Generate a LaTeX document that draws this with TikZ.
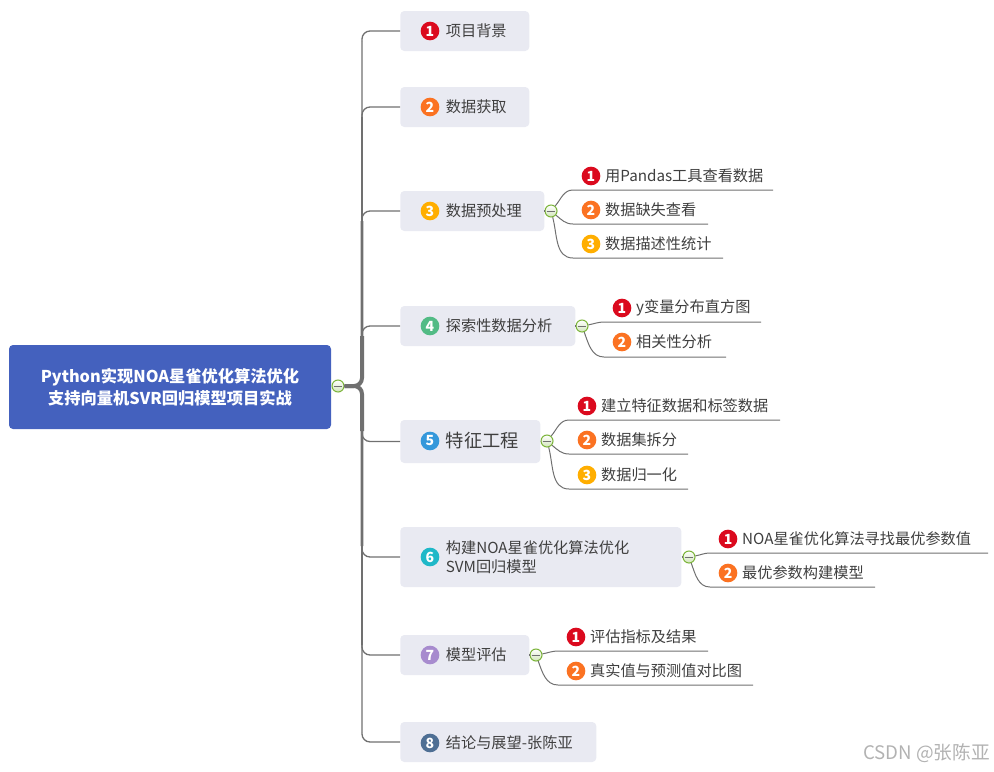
\documentclass[tikz,border=0pt]{standalone}
\usepackage{fontspec}
\setmainfont{Noto Sans CJK SC}
\usetikzlibrary{positioning}
\definecolor{rootblue}{HTML}{4461BE}
\definecolor{boxgray}{HTML}{E9EAF2}
\definecolor{linegray}{HTML}{707070}
\definecolor{inkgray}{HTML}{3F3F3F}
\definecolor{foldgreen}{HTML}{7DB53C}
\definecolor{markred}{HTML}{DB0A1E}
\definecolor{markorange}{HTML}{FB7222}
\definecolor{markamber}{HTML}{FFAE00}
\definecolor{markgreen}{HTML}{52BB85}
\definecolor{markblue}{HTML}{3498DB}
\definecolor{markteal}{HTML}{1FB8C8}
\definecolor{markpurple}{HTML}{A78BCE}
\definecolor{markslate}{HTML}{4E6F94}

\begin{document}
\begin{tikzpicture}[
    x=.75pt, y=-.75pt,
    root/.style={fill=rootblue, rounded corners=3pt, minimum width=241.5pt, minimum height=63pt, inner sep=0pt, text=white, align=center, font=\bfseries\fontsize{12.2}{16.5}\selectfont},
    topic/.style={anchor=west, fill=boxgray, rounded corners=3pt, minimum height=30pt, inner sep=0pt},
    badge/.style={circle, fill=#1, text=white, inner sep=0pt, minimum size=14pt, font=\bfseries\fontsize{10.5}{10.5}\selectfont},
    itemtext/.style={text=inkgray, inner sep=0pt, right=4.5pt of #1, align=left, font=\fontsize{11.4}{14.25}\selectfont},
    subtext/.style={text=inkgray, inner sep=0pt, right=3.2pt of #1, yshift=.4pt, font=\fontsize{11.4}{14.25}\selectfont},
    fold/.style={circle, draw=foldgreen, line width=.8pt, top color=white, bottom color=foldgreen!35, minimum size=9pt, inner sep=0pt,
        path picture={\draw[linegray, line width=.7pt] ([xshift=1.2pt]path picture bounding box.west) -- ([xshift=-1.2pt]path picture bounding box.east);}},
    spine/.style={draw=linegray, rounded corners=6pt},
    twig/.style={draw=linegray, line width=1pt, rounded corners=6pt},
    subline/.style={draw=linegray, line width=.75pt}
]
   \useasboundingbox (0,0) rectangle (994,771);

   % Root and fold buttons
   \node[root] (root) at (170,387) {Python实现NOA星雀优化算法优化\\支持向量机SVR回归模型项目实战};
   \node[fold] (f0) at (338,386) {};
   \node[fold] (f3) at (551,211) {};
   \node[fold] (f4) at (582,326) {};
   \node[fold] (f5) at (547,441) {};
   \node[fold] (f6) at (689,557) {};
   \node[fold] (f7) at (536,655) {};

   % Topics
   \node[topic, minimum width=96.75pt] (b1) at (400,31) {};
   \node[topic, minimum width=96.75pt] (b2) at (400,107) {};
   \node[topic, minimum width=108pt] (b3) at (400,211) {};
   \node[topic, minimum width=131.25pt] (b4) at (400,326) {};
   \node[topic, minimum width=105pt, minimum height=32.25pt] (b5) at (400,441.5) {};
   \node[topic, minimum width=210.75pt, minimum height=45pt] (b6) at (400,557) {};
   \node[topic, minimum width=96.75pt] (b7) at (400,655) {};
   \node[topic, minimum width=147pt] (b8) at (400,742) {};

   \node[badge=markred] (n1) at (430,31) {1};
   \node[itemtext=n1] (t1) {项目背景};
   \node[badge=markorange] (n2) at (430,107) {2};
   \node[itemtext=n2] (t2) {数据获取};
   \node[badge=markamber] (n3) at (430,211) {3};
   \node[itemtext=n3] (t3) {数据预处理};
   \node[badge=markgreen] (n4) at (430,326) {4};
   \node[itemtext=n4] (t4) {探索性数据分析};
   \node[badge=markblue] (n5) at (430,441) {5};
   \node[itemtext=n5, font=\fontsize{13.7}{16}\selectfont] (t5) {特征工程};
   \node[badge=markteal] (n6) at (430,557) {6};
   \node[itemtext=n6] (t6) {构建NOA星雀优化算法优化\\SVM回归模型};
   \node[badge=markpurple] (n7) at (430,655) {7};
   \node[itemtext=n7] (t7) {模型评估};
   \node[badge=markslate] (n8) at (430,743) {8};
   \node[itemtext=n8] (t8) {结论与展望-张陈亚};

   % Trunk
   \coordinate (j1) at (362,41);
   \coordinate (j2) at (362,117);
   \coordinate (j3) at (362,221);
   \coordinate (j4) at (362,336);
   \coordinate (j5) at (362,431);
   \coordinate (j6) at (362,546);
   \coordinate (j7) at (362,645);
   \coordinate (j8) at (362,732);
   \draw[spine, line width=1pt] (f0) -| (j1);
   \draw[spine, line width=1pt] (f0) -| (j8);
   \draw[spine, line width=1.4pt] (f0) -| (j2);
   \draw[spine, line width=1.4pt] (f0) -| (j7);
   \draw[spine, line width=1.9pt] (f0) -| (j3);
   \draw[spine, line width=1.9pt] (f0) -| (j6);
   \draw[spine, line width=3pt] (f0) -| (j4);
   \draw[spine, line width=3pt] (f0) -| (j5);

   % Branches to the topics
   \draw[twig] (j1) |- (b1.west);
   \draw[twig] (j2) |- (b2.west);
   \draw[twig] (j3) |- (b3.west);
   \draw[twig] (j4) |- (b4.west);
   \draw[twig] (j5) |- (b5.west);
   \draw[twig] (j6) |- (b6.west);
   \draw[twig] (j7) |- (b7.west);
   \draw[twig] (j8) |- (b8.west);
   \draw[twig] (b3.east) -- (f3);
   \draw[twig] (b4.east) -- (f4);
   \draw[twig] (b5.east) -- (f5);
   \draw[twig] (b6.east) -- (f6);
   \draw[twig] (b7.east) -- (f7);

   % Items of topic 3
   \node[badge=markred] (n31) at (591,176) {1};
   \node[subtext=n31] (t31) {用Pandas工具查看数据};
   \node[badge=markorange] (n32) at (591,210) {2};
   \node[subtext=n32] (t32) {数据缺失查看};
   \node[badge=markamber] (n33) at (591,244) {3};
   \node[subtext=n33] (t33) {数据描述性统计};
   \coordinate (u31) at (573,190);
   \coordinate (e31) at (773,190);
   \coordinate (u32) at (573,224);
   \coordinate (e32) at (708,224);
   \coordinate (u33) at (573,258);
   \coordinate (e33) at (723,258);
   \draw[subline] (f3) to[out=50, in=180] (u31) -- (e31);
   \draw[subline] (f3) to[out=-40, in=180] (u32) -- (e32);
   \draw[subline] (f3) to[out=-75, in=180] (u33) -- (e33);

   % Items of topic 4
   \node[badge=markred] (n41) at (622,308) {1};
   \node[subtext=n41] (t41) {y变量分布直方图};
   \node[badge=markorange] (n42) at (622,342) {2};
   \node[subtext=n42] (t42) {相关性分析};
   \coordinate (u41) at (604,322);
   \coordinate (e41) at (761,322);
   \coordinate (u42) at (604,357);
   \coordinate (e42) at (726,357);
   \draw[subline] (f4) to[out=10, in=180] (u41) -- (e41);
   \draw[subline] (f4) to[out=-70, in=180] (u42) -- (e42);

   % Items of topic 5
   \node[badge=markred] (n51) at (587,406) {1};
   \node[subtext=n51] (t51) {建立特征数据和标签数据};
   \node[badge=markorange] (n52) at (587,440) {2};
   \node[subtext=n52] (t52) {数据集拆分};
   \node[badge=markamber] (n53) at (587,475) {3};
   \node[subtext=n53] (t53) {数据归一化};
   \coordinate (u51) at (569,420);
   \coordinate (e51) at (780,420);
   \coordinate (u52) at (569,454);
   \coordinate (e52) at (688,454);
   \coordinate (u53) at (569,489);
   \coordinate (e53) at (688,489);
   \draw[subline] (f5) to[out=50, in=180] (u51) -- (e51);
   \draw[subline] (f5) to[out=-40, in=180] (u52) -- (e52);
   \draw[subline] (f5) to[out=-75, in=180] (u53) -- (e53);

   % Items of topic 6
   \node[badge=markred] (n61) at (728,539) {1};
   \node[subtext=n61] (t61) {NOA星雀优化算法寻找最优参数值};
   \node[badge=markorange] (n62) at (728,573) {2};
   \node[subtext=n62] (t62) {最优参数构建模型};
   \coordinate (u61) at (710,553);
   \coordinate (e61) at (988,553);
   \coordinate (u62) at (710,587);
   \coordinate (e62) at (875,587);
   \draw[subline] (f6) to[out=10, in=180] (u61) -- (e61);
   \draw[subline] (f6) to[out=-70, in=180] (u62) -- (e62);

   % Items of topic 7
   \node[badge=markred] (n71) at (576,637) {1};
   \node[subtext=n71] (t71) {评估指标及结果};
   \node[badge=markorange] (n72) at (576,671) {2};
   \node[subtext=n72] (t72) {真实值与预测值对比图};
   \coordinate (u71) at (558,651);
   \coordinate (e71) at (708,651);
   \coordinate (u72) at (558,685);
   \coordinate (e72) at (753,685);
   \draw[subline] (f7) to[out=10, in=180] (u71) -- (e71);
   \draw[subline] (f7) to[out=-70, in=180] (u72) -- (e72);

   % Watermark
   \node[anchor=east, inner sep=0pt, text=black!30, font=\fontsize{14}{14}\selectfont] (mark) at (990,753) {CSDN @张陈亚};
\end{tikzpicture}
\end{document}
